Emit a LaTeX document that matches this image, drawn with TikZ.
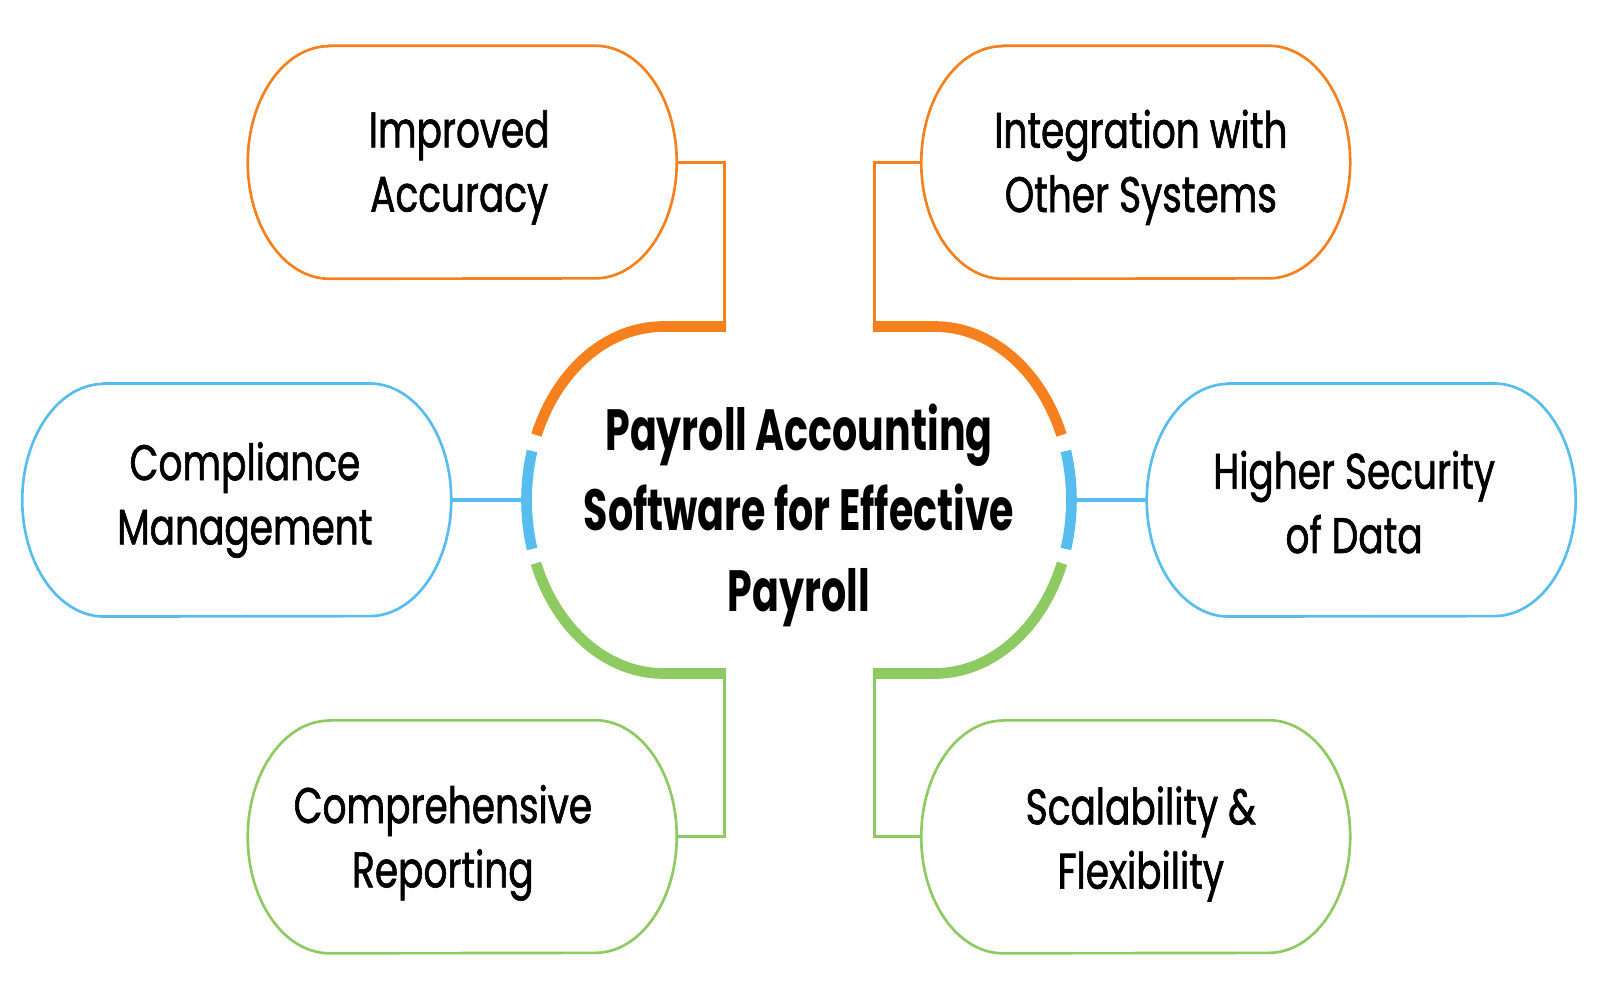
\documentclass[tikz,border=0pt]{standalone}
\usepackage{fontspec}
\setmainfont{Poppins}
\newfontfamily\boxfont[FakeStretch=0.75, FakeBold=1.2]{Poppins}
\newfontfamily\hubfont[FakeStretch=0.68]{Poppins}
\usetikzlibrary{calc}
\definecolor{corange}{HTML}{F7801E}
\definecolor{cblue}{HTML}{56BDEE}
\definecolor{cgreen}{HTML}{8DCB62}
\newcommand\stadium[2]{%
  \draw[#2, line width=2.6pt]
    ([xshift=80pt]#1.north west) -- ([xshift=-80pt]#1.north east)
    arc[start angle=-90, end angle=90, x radius=80, y radius=114]
    -- ([xshift=80pt]#1.south west)
    arc[start angle=90, end angle=270, x radius=80, y radius=114] -- cycle;}
\begin{document}
\begin{tikzpicture}[x=1pt,y=-1pt,
  frame/.style={minimum width=420pt, minimum height=228pt, inner sep=0pt},
  label/.style={inner sep=0pt, align=center, text=black,
    font=\boxfont\fontsize{49}{63}\selectfont},
  hubtext/.style={inner sep=0pt, align=center, text=black,
    font=\hubfont\bfseries\fontsize{57}{79}\selectfont},
  conn/.style={line width=3pt},
  bigline/.style={line width=10.5pt}]
\useasboundingbox (0,0) rectangle (1568,980);
% frames
\node[frame] (accbox)   at (453,159)  {};
\node[frame] (integbox) at (1113,159) {};
\node[frame] (compbox)  at (232,490)  {};
\node[frame] (secbox)   at (1334,490) {};
\node[frame] (repbox)   at (453,820)  {};
\node[frame] (scalbox)  at (1113,820) {};
\stadium{accbox}{corange}
\stadium{integbox}{corange}
\stadium{compbox}{cblue}
\stadium{secbox}{cblue}
\stadium{repbox}{cgreen}
\stadium{scalbox}{cgreen}
% texts
\node[label] (acc)   at (450,164)  {Improved\\Accuracy};
\node[label] (integ) at (1118,164) {Integration with\\Other Systems};
\node[label] (comp)  at (240,490)  {Compliance\\Management};
\node[label] (sec)   at (1327,492) {Higher Security\\of Data};
\node[label] (rep)   at (434,826)  {Comprehensive\\Reporting};
\node[label] (scal)  at (1118,827) {Scalability \&\\Flexibility};
% hub
\node[hubtext] (hub) at (783,505) {Payroll Accounting\\Software for Effective\\Payroll};
\coordinate (lc) at (650,490);
\coordinate (rc) at (916,490);
\draw[bigline,corange] (711.5,320) -- (650,320) arc[start angle=-90,end angle=-158,x radius=134,y radius=170];
\draw[bigline,cblue] (lc) ++(196.4:134 and 170) arc[start angle=196.4,end angle=163.6,x radius=134,y radius=170];
\draw[bigline,cgreen] (lc) ++(158.6:134 and 170) arc[start angle=158.6,end angle=90,x radius=134,y radius=170] -- (711.5,660);
\draw[bigline,corange] (855.5,320) -- (916,320) arc[start angle=-90,end angle=-22,x radius=134,y radius=170];
\draw[bigline,cblue] (rc) ++(-16.4:134 and 170) arc[start angle=-16.4,end angle=16.4,x radius=134,y radius=170];
\draw[bigline,cgreen] (rc) ++(21.4:134 and 170) arc[start angle=21.4,end angle=90,x radius=134,y radius=170] -- (855.5,660);
% connectors
\coordinate (tl) at (710,320);
\coordinate (tr) at (857,320);
\coordinate (ml) at (517,490);
\coordinate (mr) at (1049,490);
\coordinate (bl) at (710,660);
\coordinate (br) at (857,660);
\draw[conn,corange] (accbox.east) -| (tl);
\draw[conn,corange] (integbox.west) -| (tr);
\draw[conn,cblue] (compbox.east) -- (ml);
\draw[conn,cblue] (secbox.west) -- (mr);
\draw[conn,cgreen] (repbox.east) -| (bl);
\draw[conn,cgreen] (scalbox.west) -| (br);
\end{tikzpicture}
\end{document}
